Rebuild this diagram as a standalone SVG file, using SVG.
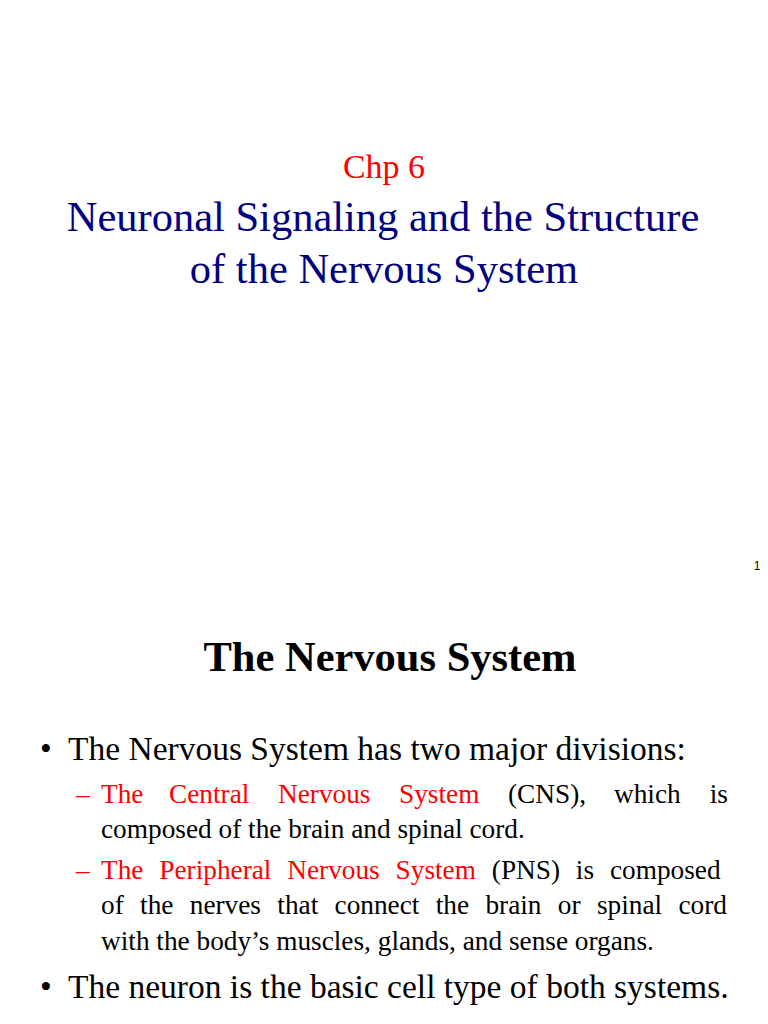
<svg xmlns="http://www.w3.org/2000/svg" width="768" height="1024" viewBox="0 0 768 1024">
<style>
text{font-family:"Liberation Serif","Times New Roman",serif;fill:#000}
.r{fill:#ff0000}
.n{fill:#000080}
.b{font-size:33.5px}
.s{font-size:27.3px}
</style>
<rect width="768" height="1024" fill="#fff"/>
<g id="slide1">
<text x="384" y="178" font-size="34" text-anchor="middle" class="r">Chp 6</text>
<text x="383" y="231" font-size="42.5" text-anchor="middle" class="n">Neuronal Signaling and the Structure</text>
<text x="384" y="283" font-size="42.5" text-anchor="middle" class="n">of the Nervous System</text>
<text x="757" y="570" font-size="12" text-anchor="middle" style="font-family:'Liberation Sans',Arial,sans-serif">1</text>
</g>
<g id="slide2">
<text x="390" y="671" font-size="42.5" font-weight="bold" text-anchor="middle">The Nervous System</text>
<text x="40" y="760" class="b">•</text>
<text x="68" y="760" class="b">The Nervous System has two major divisions:</text>
<text x="76" y="803" class="s r">–</text>
<text y="803" class="s"><tspan x="101" class="r">The</tspan><tspan x="169" class="r">Central</tspan><tspan x="278" class="r">Nervous</tspan><tspan x="399" class="r">System</tspan><tspan x="508">(CNS),</tspan><tspan x="614">which</tspan><tspan x="728" text-anchor="end">is</tspan></text>
<text x="101" y="838" class="s">composed of the brain and spinal cord.</text>
<text x="76" y="879" class="s r">–</text>
<text x="101" y="879" class="s" word-spacing="9"><tspan class="r">The Peripheral Nervous System</tspan> (PNS) is composed</text>
<text x="101" y="914" class="s" word-spacing="9.5">of the nerves that connect the brain or spinal cord</text>
<text x="101" y="950" class="s">with the body’s muscles, glands, and sense organs.</text>
<text x="40" y="998" class="b">•</text>
<text x="68" y="998" class="b">The neuron is the basic cell type of both systems.</text>
</g>
</svg>
